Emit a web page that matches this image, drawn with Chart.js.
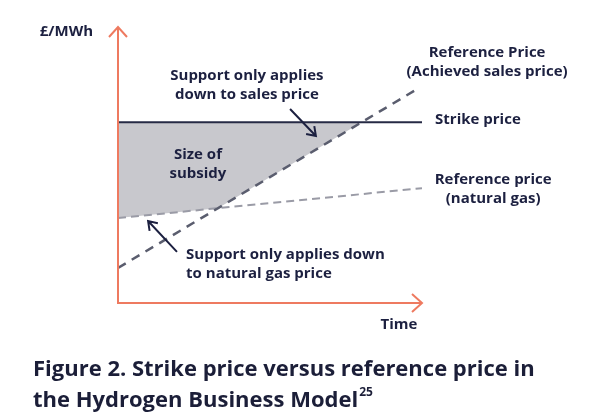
<!DOCTYPE html>
<html>
<head>
<meta charset="utf-8">
<script src="https://cdn.jsdelivr.net/npm/chart.js@4.4.1/dist/chart.umd.min.js"></script>
<style>
html, body { margin: 0; padding: 0; background: #fff; }
#wrap { width: 600px; height: 420px; }
</style>
</head>
<body>
<div id="wrap"><canvas id="myChart"></canvas></div>
<script>
// conceptual chart: time 0..100, price 0..100 (no units on axes)
const strikeTime = [0, 100];
const strikePrice = [65.5, 65.5];

const achievedTime = [0, 99];
const achievedPrice = [12.7, 77.9];

const gasTime = [0, 100];
const gasPrice = [30.8, 41.6];

const axisLabels = { y: '£/MWh', x: 'Time' };
const titleLines = ['Figure 2. Strike price versus reference price in', 'the Hydrogen Business Model'];
const titleSup = '25';

function toPoints(xs, ys) {
    return xs.map((x, i) => ({ x: x, y: ys[i] }));
}

// straight line through two points -> slope/intercept
function lineOf(xs, ys) {
    const m = (ys[1] - ys[0]) / (xs[1] - xs[0]);
    return { m: m, b: ys[0] - m * xs[0] };
}

const la = lineOf(achievedTime, achievedPrice);
const lg = lineOf(gasTime, gasPrice);
const xCross = (lg.b - la.b) / (la.m - lg.m);
const yCross = la.m * xCross + la.b;
const xStrike = (strikePrice[0] - la.b) / la.m;

const subsidyTop = [{ x: 0, y: strikePrice[0] }, { x: xStrike, y: strikePrice[0] }];
const subsidyBottom = [{ x: 0, y: gasPrice[0] }, { x: xCross, y: yCross }, { x: xStrike, y: strikePrice[0] }];

const navy = '#1c2040';
const orange = '#ee7a60';

// label anchors in data units
const notes = [
    { lines: ['Support only applies', 'down to sales price'], x: 42.4, y: 82.2, align: 'center' },
    { lines: ['Size of', 'subsidy'], x: 26.3, y: 53.6, align: 'center' },
    { lines: ['Support only applies down', 'to natural gas price'], x: 22.4, y: 17.4, align: 'left' },
    { lines: ['Reference Price', '(Achieved sales price)'], x: 121.4, y: 90.6, align: 'center' },
    { lines: ['Strike price'], x: 104.3, y: 66.3, align: 'left' },
    { lines: ['Reference price', '(natural gas)'], x: 123.4, y: 44.6, align: 'center' }
];

const arrows = [
    { from: [56.6, 70.3], to: [65.1, 60.5] },
    { from: [19.4, 18.5], to: [9.9, 29.7] }
];

const drawExtras = {
    id: 'drawExtras',
    afterDatasetsDraw(chart) {
        const ctx = chart.ctx;
        const xs = chart.scales.x, ys = chart.scales.y;
        const area = chart.chartArea;
        const x0 = xs.getPixelForValue(0);
        const yb = ys.getPixelForValue(0);
        ctx.save();

        // axes with open arrow heads
        ctx.strokeStyle = orange;
        ctx.lineWidth = 2;
        ctx.lineCap = 'butt';
        ctx.beginPath();
        ctx.moveTo(x0, yb);
        ctx.lineTo(x0, area.top);
        ctx.moveTo(x0 - 1, yb);
        ctx.lineTo(area.right, yb);
        ctx.stroke();
        ctx.beginPath();
        ctx.moveTo(x0 - 9, area.top + 10);
        ctx.lineTo(x0, area.top);
        ctx.lineTo(x0 + 9, area.top + 10);
        ctx.moveTo(area.right - 10, yb - 9);
        ctx.lineTo(area.right, yb);
        ctx.lineTo(area.right - 10, yb + 9);
        ctx.stroke();

        // pointer arrows
        ctx.strokeStyle = navy;
        ctx.lineWidth = 2;
        arrows.forEach(a => {
            const fx = xs.getPixelForValue(a.from[0]), fy = ys.getPixelForValue(a.from[1]);
            const tx = xs.getPixelForValue(a.to[0]), ty = ys.getPixelForValue(a.to[1]);
            const ang = Math.atan2(ty - fy, tx - fx);
            ctx.beginPath();
            ctx.moveTo(fx, fy);
            ctx.lineTo(tx, ty);
            ctx.moveTo(tx - 10 * Math.cos(ang - 0.6), ty - 10 * Math.sin(ang - 0.6));
            ctx.lineTo(tx, ty);
            ctx.lineTo(tx - 10 * Math.cos(ang + 0.6), ty - 10 * Math.sin(ang + 0.6));
            ctx.stroke();
        });

        // annotation text
        ctx.fillStyle = navy;
        ctx.font = 'bold 15px "Open Sans"';
        ctx.textBaseline = 'middle';
        notes.forEach(n => {
            ctx.textAlign = n.align;
            const px = xs.getPixelForValue(n.x), py = ys.getPixelForValue(n.y);
            n.lines.forEach((t, i) => ctx.fillText(t, px, py + i * 19));
        });

        // axis names
        ctx.textAlign = 'right';
        ctx.fillText(axisLabels.y, x0 - 25, area.top + 5);
        ctx.textAlign = 'center';
        ctx.fillText(axisLabels.x, xs.getPixelForValue(92.4), yb + 22);

        // figure caption
        ctx.textAlign = 'left';
        ctx.font = 'bold 22px "Open Sans"';
        ctx.fillStyle = '#1b1e38';
        ctx.fillText(titleLines[0], 33, 370);
        ctx.fillText(titleLines[1], 33, 401);
        const w = ctx.measureText(titleLines[1]).width;
        ctx.font = 'bold 12px "Open Sans"';
        ctx.fillText(titleSup, 34 + w, 393);

        ctx.restore();
    }
};

const ctx = document.getElementById('myChart');

new Chart(ctx, {
    type: 'line',
    data: {
        datasets: [
            {
                label: 'Strike price',
                data: toPoints(strikeTime, strikePrice),
                borderColor: '#262a45',
                borderWidth: 2,
                pointRadius: 0,
                fill: false
            },
            {
                label: 'Reference price (achieved sales price)',
                data: toPoints(achievedTime, achievedPrice),
                borderColor: '#5a5d6e',
                borderWidth: 2.5,
                borderDash: [9, 7],
                pointRadius: 0,
                fill: false
            },
            {
                label: 'Reference price (natural gas)',
                data: toPoints(gasTime, gasPrice),
                borderColor: '#9a9ba6',
                borderWidth: 2,
                borderDash: [8, 5],
                pointRadius: 0,
                fill: false
            },
            {
                label: 'subsidy top',
                data: subsidyTop,
                borderWidth: 0,
                borderColor: 'rgba(0,0,0,0)',
                pointRadius: 0,
                fill: false
            },
            {
                label: 'Size of subsidy',
                data: subsidyBottom,
                borderWidth: 0,
                borderColor: 'rgba(0,0,0,0)',
                backgroundColor: '#c8c8cd',
                pointRadius: 0,
                fill: 3
            }
        ]
    },
    options: {
        responsive: true,
        maintainAspectRatio: false,
        animation: false,
        layout: { padding: { left: 118, top: 27, right: 178, bottom: 117 } },
        scales: {
            x: { type: 'linear', min: 0, max: 100, display: false },
            y: { type: 'linear', min: 0, max: 100, display: false }
        },
        plugins: {
            legend: { display: false },
            tooltip: { enabled: false },
            title: { display: false }
        }
    },
    plugins: [drawExtras]
});
</script>
</body>
</html>
